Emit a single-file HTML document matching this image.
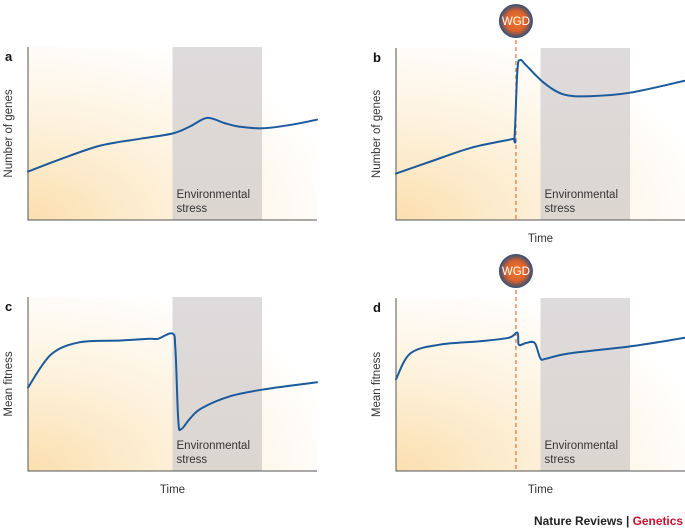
<!DOCTYPE html>
<html><head><meta charset="utf-8"><style>
body{margin:0;background:#fff}
svg{display:block;font-family:"Liberation Sans",sans-serif}
</style></head><body>
<svg id="fig" width="685" height="532" viewBox="0 0 685 532">
<defs>
<radialGradient id="warm" cx="0" cy="1" r="1.1">
<stop offset="0" stop-color="#fbdfae"/><stop offset="0.45" stop-color="#fdf0d8"/><stop offset="1" stop-color="#ffffff"/>
</radialGradient>
<linearGradient id="gray" x1="0" y1="0" x2="0" y2="1">
<stop offset="0" stop-color="#dedbdd"/><stop offset="1" stop-color="#dcd6cf"/>
</linearGradient>
<radialGradient id="wgd" cx="0.5" cy="0.5" r="0.5">
<stop offset="0" stop-color="#f07a2a"/><stop offset="0.6" stop-color="#d9622d"/><stop offset="1" stop-color="#2e4f78"/>
</radialGradient>
</defs>
<g id="panels"></g>
<text x="683" y="525" text-anchor="end" font-size="11.5" font-weight="bold" textLength="149" lengthAdjust="spacingAndGlyphs" fill="#222">Nature Reviews | <tspan fill="#c8102e">Genetics</tspan></text>
</svg>
<script>
const aTime=[0,11,25,39,50,56,62,68,73,81,91,100];
const aVal=[28,35,43,47,50,54,59,56,54,53,55,58];
const bTime=[0,12,26,40,41,42,43,45,51,58,67,81,100];
const bVal=[27,34,42,47,48,87,93,90,80,73,72,74,81];
const cTime=[0,8,18,32,42,45,50,51,52,53,56,60,70,82,100];
const cVal=[48,67,74,75,76,76,79,70,29,24,30,36,43,47,51];
const dTime=[0,5,15,29,39,42,42.5,45,48,50,52,60,81,100];
const dVal=[53,68,73,75,77,80,73,74,74,65,65,68,72,77];
const stressStart=[50,50,50,50], stressEnd=[81,81,81,81], wgdTime=[null,41.5,null,41.5];
const panelLabels=['a','b','c','d'];
const yTitles=['Number of genes','Number of genes','Mean fitness','Mean fitness'];
const NS='http://www.w3.org/2000/svg';
const panels=[
 {x0:28,top:47,bot:220,w:289,t:aTime,v:aVal,time:false},
 {x0:396,top:48,bot:220,w:289,t:bTime,v:bVal,time:true},
 {x0:28,top:297,bot:471,w:289,t:cTime,v:cVal,time:true},
 {x0:396,top:298,bot:471,w:289,t:dTime,v:dVal,time:true}];
const root=document.getElementById('panels');
function el(tag,attrs,parent){const e=document.createElementNS(NS,tag);for(const k in attrs)e.setAttribute(k,attrs[k]);(parent||root).appendChild(e);return e;}
function smooth(pts){
 let d='M'+pts[0][0].toFixed(1)+','+pts[0][1].toFixed(1);
 for(let i=0;i<pts.length-1;i++){
  const p0=pts[Math.max(0,i-1)],p1=pts[i],p2=pts[i+1],p3=pts[Math.min(pts.length-1,i+2)];
  const k=1/6;
  const c1=[p1[0]+(p2[0]-p0[0])*k,p1[1]+(p2[1]-p0[1])*k];
  const c2=[p2[0]-(p3[0]-p1[0])*k,p2[1]-(p3[1]-p1[1])*k];
  d+=`C${c1[0].toFixed(1)},${c1[1].toFixed(1)} ${c2[0].toFixed(1)},${c2[1].toFixed(1)} ${p2[0].toFixed(1)},${p2[1].toFixed(1)}`;
 }
 return d;
}
panels.forEach((p,i)=>{
 const g=el('g',{});
 
 
 const X=t=>p.x0+t/100*p.w, Y=v=>p.bot-v/100*(p.bot-p.top);
 const bg=el('rect',{x:p.x0,y:p.top,width:p.w,height:p.bot-p.top,fill:'url(#warm)'},g);
 
 
 const sr=el('rect',{x:X(stressStart[i]),y:p.top,width:X(stressEnd[i])-X(stressStart[i]),height:p.bot-p.top,fill:'url(#gray)'},g);
 
 
 const st=el('text',{x:X(stressStart[i])+4,y:p.bot-22,'font-size':'11.5',fill:'#333'},g);
 
 
 const s1=el('tspan',{x:X(stressStart[i])+4},st);s1.textContent='Environmental';
 const s2=el('tspan',{x:X(stressStart[i])+4,dy:'14'},st);s2.textContent='stress';
 const ax=el('path',{d:`M${p.x0},${p.top}V${p.bot}H${p.x0+p.w}`,stroke:'#555',fill:'none','stroke-width':1},g);
 
 
 if(wgdTime[i]!==null){
  const wx=X(wgdTime[i]);
  const dl=el('line',{x1:wx,x2:wx,y1:p.top-8,y2:p.bot,stroke:'#e8703a','stroke-width':1.2,'stroke-dasharray':'4,3'},g);
  
  
  const c=el('circle',{cx:wx,cy:p.top-27,r:17,fill:'url(#wgd)'},g);
  
  
  const wt=el('text',{x:wx,y:p.top-23,'text-anchor':'middle','font-size':'11.5',fill:'#fff'},g);
  
  
  wt.textContent='WGD';
 }
 const pts=p.t.map((t,k)=>[X(t),Y(p.v[k])]);
 const ln=el('path',{d:smooth(pts),fill:'none',stroke:'#1b5a9c','stroke-width':2,'stroke-linejoin':'round','stroke-linecap':'round'},g);
 
 
 const lb=el('text',{x:p.x0-23,y:p.top+14,'font-size':'13','font-weight':'bold',fill:'#111'},g);
 
 
 lb.textContent=panelLabels[i];
 const cy=(p.top+p.bot)/2;
 const yt=el('text',{x:p.x0-16,y:cy,'text-anchor':'middle','font-size':'11.5',fill:'#333',transform:`rotate(-90 ${p.x0-16} ${cy})`},g);
 
 
 yt.textContent=yTitles[i];
 if(p.time){
  const xt=el('text',{x:p.x0+p.w/2,y:p.bot+22,'text-anchor':'middle','font-size':'11.5',fill:'#333'},g);
  
  
  xt.textContent='Time';
 }
});
</script>
</body></html>
